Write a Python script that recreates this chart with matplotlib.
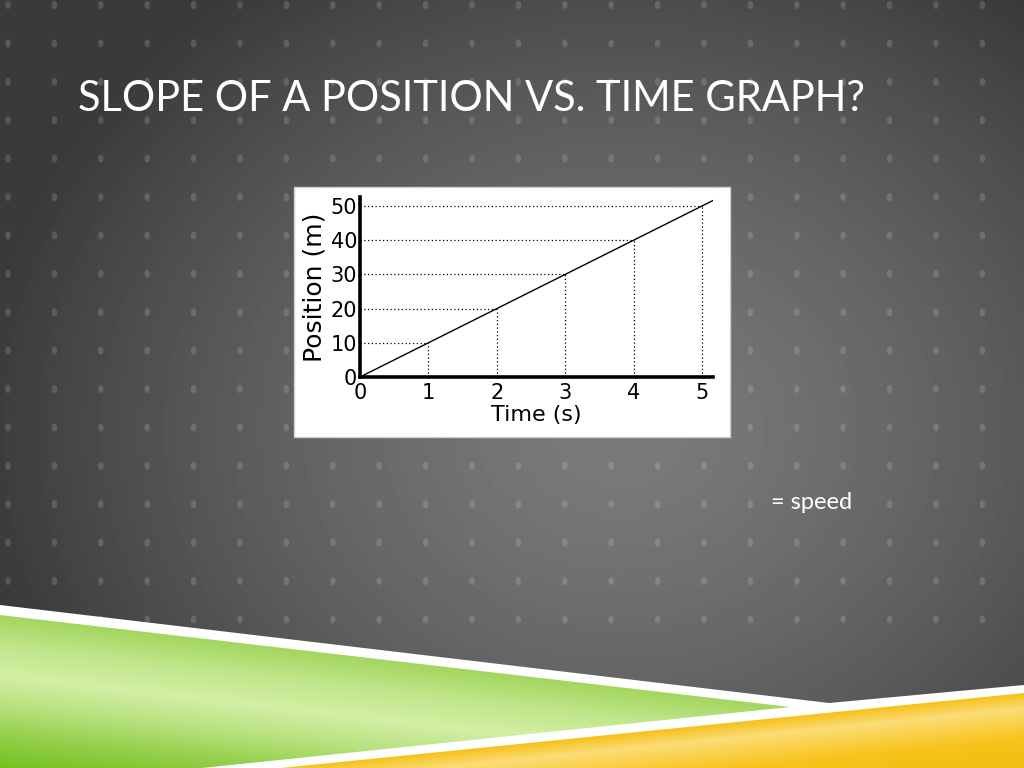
import numpy as np
import matplotlib
matplotlib.use("Agg")
import matplotlib.pyplot as plt
from matplotlib.patches import Polygon, Rectangle
from matplotlib.collections import EllipseCollection
from matplotlib.colors import LinearSegmentedColormap

# data
time_s = [0, 1, 2, 3, 4, 5]
position_m = [0, 10, 20, 30, 40, 50]
x_ticks = [0, 1, 2, 3, 4, 5]
y_ticks = [0, 10, 20, 30, 40, 50]

title = "SLOPE OF A POSITION VS. TIME GRAPH?"
note = "= speed"

W, H = 1024, 768
fig = plt.figure(figsize=(W / 100, H / 100), dpi=100)

# ---- slide background (pixel coordinates, y down)
bg = fig.add_axes([0, 0, 1, 1])
bg.set_xlim(0, W)
bg.set_ylim(H, 0)
bg.axis("off")

yy, xx = np.mgrid[0:H, 0:W]
r = np.sqrt(((xx - 620) / 640.0) ** 2 + ((yy - 430) / 540.0) ** 2)
shade = 0.48 - 0.25 * np.clip(r, 0, 1) ** 1.4
bg.imshow(shade, cmap="gray", vmin=0, vmax=1, extent=(0, W, H, 0),
          aspect="auto", zorder=0)

# dot pattern
cols = 8 + 46.4 * np.arange(22)
rows = 5 + 38.4 * np.arange(17)
gx, gy = np.meshgrid(cols, rows)
dots = EllipseCollection(np.full(gx.size, 5.5), np.full(gx.size, 8.0),
                         np.zeros(gx.size), units="xy",
                         offsets=np.column_stack([gx.ravel(), gy.ravel()]),
                         offset_transform=bg.transData,
                         facecolors=(1, 1, 1, 0.15), edgecolors="none", zorder=1)
bg.add_collection(dots)

# bottom decoration: white base, green and yellow bands
bg.add_patch(Polygon([(0, 605), (829, 703), (1024, 685), (1024, H), (0, H)],
                     closed=True, facecolor="white", edgecolor="none", zorder=2))

green_cmap = LinearSegmentedColormap.from_list(
    "g", ["#a3d65f", "#c0e68a", "#d3efa6", "#b7e17e", "#94cf4a", "#78c224"])
yellow_cmap = LinearSegmentedColormap.from_list(
    "y", ["#f6c21c", "#fcdc78", "#fad047", "#f7c41e", "#f5c015"])

# gradient across the band direction
d_green = (yy - 615 - (707 - 615) / 790.0 * xx) / 150.0
g_img = bg.imshow(np.clip(d_green, 0, 1), cmap=green_cmap, vmin=0, vmax=1,
                  extent=(0, W, H, 0), aspect="auto", zorder=3)
g_poly = Polygon([(0, 615), (790, 707), (202, H), (0, H)], closed=True,
                 facecolor="none", edgecolor="none", transform=bg.transData)
bg.add_patch(g_poly)
g_img.set_clip_path(g_poly)

d_yel = (yy - (768 - (768 - 693) / (1024 - 281.0) * (xx - 281))) / 60.0
y_img = bg.imshow(np.clip(d_yel, 0, 1), cmap=yellow_cmap, vmin=0, vmax=1,
                  extent=(0, W, H, 0), aspect="auto", zorder=3)
y_poly = Polygon([(281, H), (1024, 693), (1024, H)], closed=True,
                 facecolor="none", edgecolor="none", transform=bg.transData)
bg.add_patch(y_poly)
y_img.set_clip_path(y_poly)

# white picture box behind the graph
bg.add_patch(Rectangle((294, 187), 436, 250, facecolor="white",
                       edgecolor="#d0d0d0", linewidth=1, zorder=4))

# title and note
bg.text(78, 111, title, color="white", fontsize=30, family="Lato",
        ha="left", va="baseline", zorder=5)
bg.text(771, 509, note, color="white", fontsize=17, family="Lato",
        ha="left", va="baseline", zorder=5)

# ---- the graph itself
x0, y0 = 360, 377          # origin in pixels
px_per_s = 68.4
px_per_m = 3.42
xmax, ymax = 5.16, 52.6
ax = fig.add_axes([x0 / W, (H - y0) / H,
                   xmax * px_per_s / W, ymax * px_per_m / H])
ax.set_xlim(0, xmax)
ax.set_ylim(0, ymax)
ax.patch.set_alpha(0)
for s in ["top", "right"]:
    ax.spines[s].set_visible(False)
for s in ["left", "bottom"]:
    ax.spines[s].set_linewidth(2.6)
    ax.spines[s].set_color("black")

ax.axline((time_s[0], position_m[0]), (time_s[-1], position_m[-1]),
          color="black", linewidth=1.0)
ax.vlines(time_s[1:], 0, position_m[1:], colors="black",
          linestyles=(0, (1, 2)), linewidth=0.9)
ax.hlines(position_m[1:], 0, time_s[1:], colors="black",
          linestyles=(0, (1, 2)), linewidth=0.9)

ax.set_xticks(x_ticks)
ax.set_yticks(y_ticks)
ax.tick_params(length=0, labelsize=15)
ax.tick_params(axis="x", pad=4)
ax.tick_params(axis="y", pad=2)
ax.set_xlabel("Time (s)", fontsize=16, labelpad=2)
ax.set_ylabel("Position (m)", fontsize=18, labelpad=3)

fig.savefig("out.png", dpi=100)
